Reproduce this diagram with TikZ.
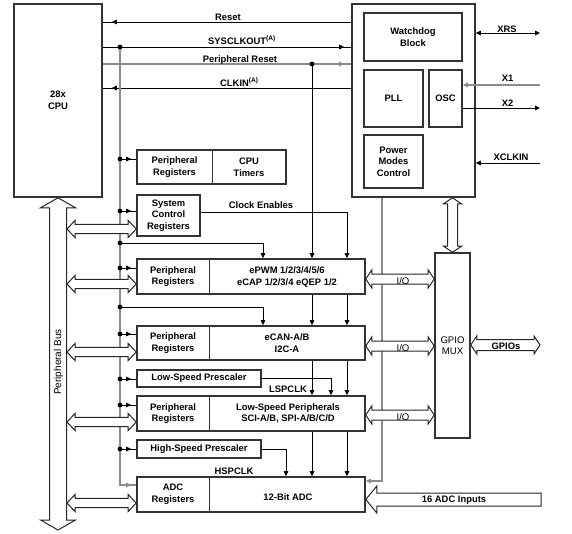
\documentclass[tikz,border=0pt]{standalone}
\usepackage{fontspec}
\setmainfont{Liberation Sans}
\usetikzlibrary{arrows.meta,decorations.markings,calc}
\newcommand\lbl{\fontsize{9.4}{11.6}\selectfont\bfseries}
\newcommand\lbr{\fontsize{9.6}{11.6}\selectfont}
\tikzset{
  box/.style={draw=black!80, line width=1.6pt, fill=white, inner sep=0pt, align=center, font=\lbl},
  txt/.style={inner sep=0pt, align=center, font=\lbl},
  divl/.style={draw=black!80, line width=1pt},
  sig/.style={line width=0.9pt, draw=black},
  gsig/.style={line width=1.1pt, draw=black!45},
  tipend/.style={-{Triangle[length=5pt,width=4.5pt]}},
  tipmid/.style={postaction={decorate,decoration={markings,mark=at position #1 with {\arrow{Triangle[length=5pt,width=4.5pt]}}}}},
  wide/.style={draw=black!85, line width=1pt, fill=white, line join=miter},
  dotc/.style={circle, fill=black, inner sep=0pt, minimum size=4.8pt},
  lab/.style={font=\lbl, inner sep=0pt, anchor=base},
}
% horizontal double-headed wide arrow: left point, right point, shaft half, head half, head length
\newcommand\wideH[5]{\draw[wide] let \p1=#1, \p2=#2 in
  (\x1,\y1) -- (\x1+#5pt,\y1+#4pt) -- (\x1+#5pt,\y1+#3pt) -- (\x2-#5pt,\y1+#3pt) -- (\x2-#5pt,\y1+#4pt)
  -- (\x2,\y1) -- (\x2-#5pt,\y1-#4pt) -- (\x2-#5pt,\y1-#3pt) -- (\x1+#5pt,\y1-#3pt) -- (\x1+#5pt,\y1-#4pt) -- cycle;}
% vertical double-headed wide arrow: top point, bottom point
\newcommand\wideV[5]{\draw[wide] let \p1=#1, \p2=#2 in
  (\x1,\y1) -- (\x1+#4pt,\y1-#5pt) -- (\x1+#3pt,\y1-#5pt) -- (\x1+#3pt,\y2+#5pt) -- (\x1+#4pt,\y2+#5pt)
  -- (\x1,\y2) -- (\x1-#4pt,\y2+#5pt) -- (\x1-#3pt,\y2+#5pt) -- (\x1-#3pt,\y1-#5pt) -- (\x1-#4pt,\y1-#5pt) -- cycle;}
% single wide arrow pointing left: tip point, tail point
\newcommand\wideL[5]{\draw[wide] let \p1=#1, \p2=#2 in
  (\x1,\y1) -- (\x1+#5pt,\y1+#4pt) -- (\x1+#5pt,\y1+#3pt) -- (\x2,\y1+#3pt) -- (\x2,\y1-#3pt)
  -- (\x1+#5pt,\y1-#3pt) -- (\x1+#5pt,\y1-#4pt) -- cycle;}

\begin{document}
\begin{tikzpicture}[x=1pt,y=-1pt]
\useasboundingbox (0,0) rectangle (572,533);

% ---------- main blocks ----------
\node[box, minimum width=88pt, minimum height=193pt] (cpu) at (58,100.5) {28x\\CPU};
\node[box, minimum width=123pt, minimum height=193pt] (clk) at (413.5,100.5) {};
\node[box, minimum width=98pt, minimum height=48pt] (wd) at (413,37) {Watchdog\\Block};
\node[box, minimum width=59pt, minimum height=57pt] (pll) at (393.5,98.5) {PLL};
\node[box, minimum width=33pt, minimum height=57pt] (osc) at (445.5,98.5) {OSC};
\node[box, minimum width=59pt, minimum height=53pt] (pmc) at (393.5,161.5) {Power\\Modes\\Control};

% timers
\node[box, minimum width=149pt, minimum height=34pt] (tim) at (211.5,167) {};
\draw[divl] (212,150) -- (212,184);
\node[txt] (timr) at (174.5,167) {Peripheral\\Registers};
\node[txt] (timt) at (249,167) {CPU\\Timers};

% system control
\node[box, minimum width=63pt, minimum height=41pt] (sys) at (168.5,215.5) {System\\Control\\Registers};

% ePWM
\node[box, minimum width=228pt, minimum height=35pt] (pwm) at (251,276.5) {};
\draw[divl] (209,259) -- (209,294);
\node[txt] (pwmr) at (173,276.5) {Peripheral\\Registers};
\node[txt] (pwmt) at (287,277) {ePWM 1/2/3/4/5/6\\eCAP 1/2/3/4 eQEP 1/2};

% eCAN
\node[box, minimum width=228pt, minimum height=34pt] (can) at (251,343) {};
\draw[divl] (209,326) -- (209,360);
\node[txt] (canr) at (173,343) {Peripheral\\Registers};
\node[txt] (cant) at (287,343) {eCAN-A/B\\I2C-A};

% low-speed prescaler
\node[box, minimum width=124pt, minimum height=17pt] (lsp) at (199,378.5) {Low-Speed Prescaler};

% low-speed peripherals
\node[box, minimum width=228pt, minimum height=35pt] (ls) at (251,413.5) {};
\draw[divl] (209,396) -- (209,431);
\node[txt] (lsr) at (173,413.5) {Peripheral\\Registers};
\node[txt] (lst) at (288,413.5) {Low-Speed Peripherals\\SCI-A/B, SPI-A/B/C/D};

% high-speed prescaler
\node[box, minimum width=124pt, minimum height=18pt] (hsp) at (199,449) {High-Speed Prescaler};

% ADC
\node[box, minimum width=228pt, minimum height=35pt] (adc) at (251,494.5) {};
\draw[divl] (209,477) -- (209,512);
\node[txt] (adcr) at (173,494) {ADC\\Registers};
\node[txt] (adct) at (288,497) {12-Bit ADC};

% GPIO MUX
\node[box, minimum width=35pt, minimum height=185pt, font=\lbr] (gpio) at (452.5,345.5) {GPIO\\MUX};

% ---------- helper coordinates ----------
\coordinate (yRes) at (0,22);
\coordinate (ySys) at (0,47);
\coordinate (yPR) at (0,64);
\coordinate (yCLK) at (0,88);
\coordinate (eXRS) at (540,33);
\coordinate (eX1) at (540,85);
\coordinate (eX2) at (540,108);
\coordinate (eXCL) at (540,163);
\coordinate (cADC) at (120,485);
\coordinate (xA) at (263,0);
\coordinate (xB) at (312,0);
\coordinate (xC) at (347,0);
\coordinate (xD) at (331,0);
\coordinate (xE) at (286,0);
\coordinate (xF) at (382,0);
\coordinate (yF) at (0,481);
\coordinate (yCE) at (0,212);
\coordinate (busB) at (58,530);
\coordinate (busR) at (67,0);
\coordinate (h1) at (0,229);
\coordinate (h2) at (0,284);
\coordinate (h3) at (0,352);
\coordinate (h4) at (0,422);
\coordinate (h5) at (0,503);
\coordinate (io1) at (0,279);
\coordinate (io2) at (0,346);
\coordinate (io3) at (0,415);
\coordinate (gOut) at (540,345);
\coordinate (aIn) at (541,499.5);

% ---------- clock/reset signals ----------
\draw[sig, tipmid=-9pt] (clk.west |- yRes) -- (cpu.east |- yRes);
\draw[sig, tipmid=-7pt] (cpu.east |- ySys) -- (clk.west |- ySys);
\draw[gsig, tipmid=-7pt] (cpu.east |- yPR) -- (clk.west |- yPR);
\draw[sig, tipmid=-9pt] (clk.west |- yCLK) -- (cpu.east |- yCLK);

\node[lab] (tRes) at (228,20.5) {Reset};
\node[lab, anchor=base west] (tSys) at (208,44) {SYSCLKOUT\textsuperscript{(A)}};
\node[lab] (tPR) at (240,62) {Peripheral Reset};
\node[lab, anchor=base west] (tClk) at (220,86) {CLKIN\textsuperscript{(A)}};

% external pins
\draw[sig, {Triangle[length=5pt,width=4.5pt]}-{Triangle[length=5pt,width=4.5pt]}] (clk.east |- eXRS) -- (eXRS);
\draw[gsig, tipend] (eX1) -- (osc.east |- eX1);
\draw[sig, tipend] (osc.east |- eX2) -- (eX2);
\draw[sig, tipend] (eXCL) -- (clk.east |- eXCL);
\node[lab] (tXRS) at (507,32) {XRS};
\node[lab] (tX1) at (507.5,81) {X1};
\node[lab] (tX2) at (507.5,106) {X2};
\node[lab] (tXCL) at (511,160.5) {XCLKIN};

% ---------- SYSCLKOUT distribution ----------
\coordinate (dS) at (120,47);
\coordinate (dT) at (120,159);
\coordinate (dSC) at (120,211);
\coordinate (dB1) at (120,243);
\coordinate (dP) at (120,268);
\coordinate (dB2) at (120,307);
\coordinate (dC) at (120,334);
\coordinate (dLP) at (120,379);
\coordinate (dL) at (120,405);
\coordinate (dHP) at (120,449);
\coordinate (dPR) at (312,64);

\draw[gsig, tipmid=-5pt] (dS) |- (adc.west |- cADC);
\draw[sig, tipmid=-5pt] (dT) -- (tim.west |- dT);
\draw[sig, tipmid=-5pt] (dSC) -- (sys.west |- dSC);
\draw[sig, tipmid=-5pt] (dP) -- (pwm.west |- dP);
\draw[sig, tipmid=-5pt] (dC) -- (can.west |- dC);
\draw[sig, tipmid=-5pt] (dLP) -- (lsp.west |- dLP);
\draw[sig, tipmid=-5pt] (dL) -- (ls.west |- dL);
\draw[sig, tipmid=-5pt] (dHP) -- (hsp.west |- dHP);

\draw[sig, tipend] (dB1) -| (xA |- pwm.north);
\draw[sig, tipend] (dB2) -| (xA |- can.north);

% clock enables / peripheral reset
\draw[sig, tipend] (sys.east |- yCE) -| (xC |- pwm.north);
\node[lab] (tCE) at (261,208) {Clock Enables};
\draw[sig, tipend] (dPR) -- (xB |- pwm.north);
\draw[sig, tipend] (xB |- pwm.south) -- (xB |- can.north);
\draw[sig, tipend] (xC |- pwm.south) -- (xC |- can.north);
\draw[sig, tipend] (xB |- can.south) -- (xB |- ls.north);
\draw[sig, tipend] (xC |- can.south) -- (xC |- ls.north);
\draw[sig, tipend] (xB |- ls.south) -- (xB |- adc.north);
\draw[sig, tipend] (xC |- ls.south) -- (xC |- adc.north);

% junction dots
\foreach \d in {dS,dT,dSC,dB1,dP,dB2,dC,dLP,dL,dHP,dPR}
  \node[dotc] (n\d) at (\d) {};

% prescalers
\draw[sig, tipend] (lsp.east) -| (xD |- ls.north);
\node[lab] (tLS) at (288,392) {LSPCLK};
\draw[sig, tipend] (hsp.east) -| (xE |- adc.north);
\node[lab] (tHS) at (234,474) {HSPCLK};

% clock block to ADC
\draw[gsig, tipend] (xF |- clk.south) |- (adc.east |- yF);

% ---------- wide arrows ----------
\wideV{(cpu.south)}{(busB)}{8.5}{17.5}{10}
\node[inner sep=0pt, rotate=90, font=\fontsize{10}{12}\selectfont] (tBus) at (58.5,362) {Peripheral Bus};

\wideH{(busR |- h1)}{(sys.west |- h1)}{4.7}{8.5}{8}
\wideH{(busR |- h2)}{(pwm.west |- h2)}{4.7}{8.5}{8}
\wideH{(busR |- h3)}{(can.west |- h3)}{4.7}{8.5}{8}
\wideH{(busR |- h4)}{(ls.west |- h4)}{4.7}{8.5}{8}
\wideH{(busR |- h5)}{(adc.west |- h5)}{4.7}{8.5}{8}

\wideV{(gpio.north |- clk.south)}{(gpio.north)}{5}{9}{6}

\wideH{(pwm.east |- io1)}{(gpio.west |- io1)}{5}{9}{6}
\wideH{(can.east |- io2)}{(gpio.west |- io2)}{5}{9}{6}
\wideH{(ls.east |- io3)}{(gpio.west |- io3)}{5}{9}{6}
\node[inner sep=0pt, font=\lbr] (tio1) at (403,281) {I/O};
\node[inner sep=0pt, font=\lbr] (tio2) at (403,348) {I/O};
\node[inner sep=0pt, font=\lbr] (tio3) at (403,417) {I/O};

\wideH{(gpio.east |- gOut)}{(gOut)}{5.5}{9}{6}
\node[txt] (tgp) at (506,346) {GPIOs};

\wideL{(adc.east |- aIn)}{(aIn)}{6.5}{13.5}{11}
\node[txt] (tadc) at (454,500) {16 ADC Inputs};
\end{tikzpicture}
\end{document}
